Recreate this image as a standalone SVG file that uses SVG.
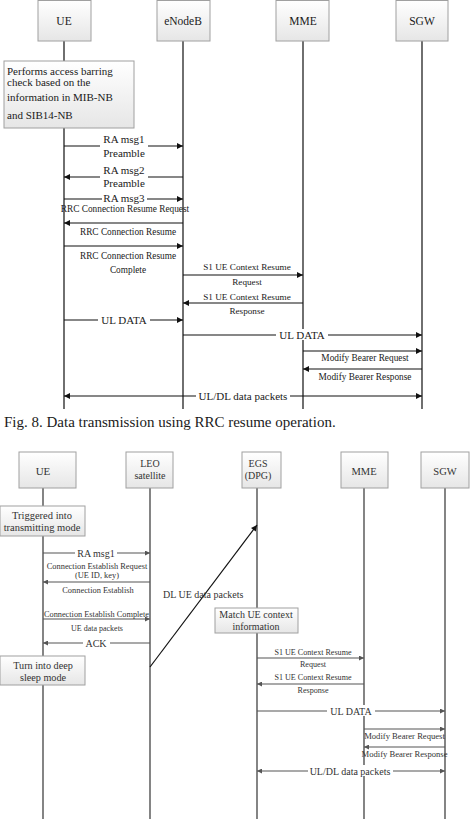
<svg xmlns="http://www.w3.org/2000/svg" width="474" height="819" viewBox="0 0 474 819">
<style>
text{font-family:"Liberation Serif","Times New Roman",serif;}
.t{fill:#1a1a1a;}
.b{fill:#333;}
.box{fill:url(#g);stroke:#a0a0a0;stroke-width:1;}
.ll{stroke:#222;stroke-width:1.3;fill:none;}
.ll2{stroke:#666;stroke-width:1.6;fill:none;}
.a{stroke:#111;stroke-width:1.2;fill:none;marker-end:url(#ah);}
.a2{stroke:#555;stroke-width:1.1;fill:none;marker-end:url(#ah2);}
.d{stroke:#111;stroke-width:1.2;fill:none;marker-start:url(#ah);marker-end:url(#ah);}
.d2{stroke:#555;stroke-width:1.1;fill:none;marker-start:url(#ah2);marker-end:url(#ah2);}
.w{fill:#fff;}
</style>
<defs>
<linearGradient id="g" x1="0" y1="0" x2="0" y2="1">
<stop offset="0" stop-color="#ffffff"/>
<stop offset="1" stop-color="#e6e6e6"/>
</linearGradient>
<marker id="ah" viewBox="0 0 10 10" refX="10" refY="5" markerWidth="8" markerHeight="6" markerUnits="userSpaceOnUse" orient="auto-start-reverse">
<path d="M0,0 L10,5 L0,10 z" fill="#111"/>
</marker>
<marker id="ah2" viewBox="0 0 10 10" refX="10" refY="5" markerWidth="7" markerHeight="5" markerUnits="userSpaceOnUse" orient="auto-start-reverse">
<path d="M0,0 L10,5 L0,10 z" fill="#555"/>
</marker>
</defs>
<rect width="474" height="819" fill="#fff"/>

<!-- ===== Figure 8 ===== -->
<g id="lifelines-top">
<line class="ll" x1="64" y1="41" x2="64" y2="409"/>
<line class="ll" x1="183" y1="41" x2="183" y2="409"/>
<line class="ll" x1="303" y1="41" x2="303" y2="409"/>
<line class="ll" x1="422" y1="41" x2="422" y2="409"/>
</g>
<g id="ue1"><rect class="box" x="38" y="0.5" width="53" height="40.5"/><text class="t" x="64" y="25" font-size="11.5" text-anchor="middle">UE</text></g>
<g id="enodeb"><rect class="box" x="157" y="0.5" width="53" height="40.5"/><text class="t" x="183" y="25" font-size="11.5" text-anchor="middle">eNodeB</text></g>
<g id="mme1"><rect class="box" x="276" y="0.5" width="53" height="40.5"/><text class="t" x="303" y="25" font-size="11.5" text-anchor="middle">MME</text></g>
<g id="sgw1"><rect class="box" x="396" y="0.5" width="52" height="40.5"/><text class="t" x="422" y="25" font-size="11.5" text-anchor="middle">SGW</text></g>
<g id="barring">
<rect class="box" x="4" y="61" width="130" height="67"/>
<text class="t" x="7" y="75" font-size="11">Performs access barring</text>
<text class="t" x="7" y="86" font-size="11">check based on the</text>
<text class="t" x="7" y="101" font-size="11">information in MIB-NB</text>
<text class="t" x="7" y="119" font-size="11">and SIB14-NB</text>
</g>

<g id="connectors-top">
<line class="a" x1="64" y1="146" x2="183" y2="146"/>
<rect class="w" x="100" y="140" width="48" height="9"/>
<text class="t" x="124" y="143" font-size="11" text-anchor="middle">RA msg1</text>
<text class="t" x="124" y="157" font-size="11" text-anchor="middle">Preamble</text>

<line class="a" x1="183" y1="177" x2="64" y2="177"/>
<rect class="w" x="100" y="171" width="48" height="9"/>
<text class="t" x="124" y="174" font-size="11" text-anchor="middle">RA msg2</text>
<text class="t" x="124" y="187" font-size="11" text-anchor="middle">Preamble</text>

<line class="a" x1="64" y1="199" x2="183" y2="199"/>
<rect class="w" x="102" y="193" width="45" height="10"/>
<text class="t" x="124" y="202" font-size="11" text-anchor="middle">RA msg3</text>
<text class="t" x="125" y="212" font-size="9.3" text-anchor="middle">RRC Connection Resume Request</text>

<line class="a" x1="183" y1="223" x2="64" y2="223"/>
<text class="t" x="128" y="235" font-size="9.3" text-anchor="middle">RRC Connection Resume</text>

<line class="a" x1="64" y1="246" x2="183" y2="246"/>
<text class="t" x="128" y="259" font-size="9.3" text-anchor="middle">RRC Connection Resume</text>
<text class="t" x="128" y="273" font-size="9.3" text-anchor="middle">Complete</text>

<line class="a" x1="183" y1="275" x2="303" y2="275"/>
<text class="t" x="247" y="270" font-size="9.2" text-anchor="middle">S1 UE Context Resume</text>
<text class="t" x="247" y="285" font-size="9.2" text-anchor="middle">Request</text>

<line class="a" x1="303" y1="303" x2="183" y2="303"/>
<text class="t" x="247" y="300" font-size="9.2" text-anchor="middle">S1 UE Context Resume</text>
<text class="t" x="247" y="314" font-size="9.2" text-anchor="middle">Response</text>

<line class="a" x1="64" y1="320" x2="183" y2="320"/>
<rect class="w" x="98" y="314" width="52" height="11"/>
<text class="t" x="124" y="324" font-size="11" text-anchor="middle">UL DATA</text>

<line class="a" x1="183" y1="335" x2="422" y2="335"/>
<rect class="w" x="276" y="329" width="52" height="11"/>
<text class="t" x="302" y="339" font-size="11" text-anchor="middle">UL DATA</text>

<line class="a" x1="303" y1="351" x2="422" y2="351"/>
<text class="t" x="365" y="361" font-size="9.3" text-anchor="middle">Modify Bearer Request</text>

<line class="a" x1="422" y1="369" x2="303" y2="369"/>
<text class="t" x="365" y="380" font-size="9.3" text-anchor="middle">Modify Bearer Response</text>

<line class="d" x1="64" y1="396" x2="422" y2="396"/>
<rect class="w" x="196" y="390" width="94" height="11"/>
<text class="t" x="243" y="400" font-size="11" text-anchor="middle">UL/DL data packets</text>
</g>

<text class="t" x="4" y="427" font-size="15">Fig. 8. Data transmission using RRC resume operation.</text>

<!-- ===== Second figure ===== -->
<g id="lifelines-bottom">
<line class="ll2" x1="43" y1="488" x2="43" y2="819"/>
<line class="ll2" x1="150" y1="488" x2="150" y2="819"/>
<line class="ll2" x1="257" y1="488" x2="257" y2="819"/>
<line class="ll2" x1="364" y1="488" x2="364" y2="819"/>
<line class="ll2" x1="445" y1="488" x2="445" y2="819"/>
</g>
<g id="ue2"><rect class="box" x="19" y="452" width="57" height="36"/><text class="b" x="43" y="475" font-size="11" text-anchor="middle">UE</text></g>
<g id="leo"><rect class="box" x="126" y="452" width="47" height="36"/><text class="b" x="150" y="467" font-size="10" text-anchor="middle">LEO</text><text class="b" x="150" y="479" font-size="10" text-anchor="middle">satellite</text></g>
<g id="egs"><rect class="box" x="242" y="452" width="39" height="36"/><text class="b" x="258" y="467" font-size="10" text-anchor="middle">EGS</text><text class="b" x="258" y="479" font-size="10" text-anchor="middle">(DPG)</text></g>
<g id="mme2"><rect class="box" x="341" y="452" width="47" height="36"/><text class="b" x="364" y="475" font-size="10.5" text-anchor="middle">MME</text></g>
<g id="sgw2"><rect class="box" x="421" y="452" width="48" height="36"/><text class="b" x="445" y="475" font-size="10.5" text-anchor="middle">SGW</text></g>
<g id="triggered"><rect class="box" x="0" y="506" width="85" height="30"/><text class="b" x="42" y="519" font-size="10.5" text-anchor="middle">Triggered into</text><text class="b" x="42" y="531" font-size="10.5" text-anchor="middle">transmitting mode</text></g>
<g id="sleep"><rect class="box" x="0" y="656" width="85" height="29"/><text class="b" x="43" y="669" font-size="10.2" text-anchor="middle">Turn into deep</text><text class="b" x="43" y="681" font-size="10.2" text-anchor="middle">sleep mode</text></g>
<g id="match"><rect class="box" x="215" y="608" width="83" height="25"/><text class="b" x="256" y="618" font-size="10" text-anchor="middle">Match UE context</text><text class="b" x="256" y="630" font-size="10" text-anchor="middle">information</text></g>

<g id="connectors-bottom">
<line class="a2" x1="43" y1="553" x2="150" y2="553"/>
<rect class="w" x="75" y="548" width="42" height="10"/>
<text class="b" x="96" y="557" font-size="10" text-anchor="middle">RA msg1</text>
<text class="b" x="97" y="569" font-size="8.4" text-anchor="middle">Connection Establish Request</text>
<text class="b" x="97" y="578" font-size="8.4" text-anchor="middle">(UE ID, key)</text>

<line class="a2" x1="150" y1="582" x2="43" y2="582"/>
<text class="b" x="98" y="593" font-size="8.4" text-anchor="middle">Connection Establish</text>

<line class="a2" x1="43" y1="619" x2="150" y2="619"/>
<text class="b" x="96.5" y="616.5" font-size="8.3" text-anchor="middle">Connection Establish Complete</text>
<text class="b" x="97" y="631" font-size="8" text-anchor="middle">UE data packets</text>

<line class="a2" x1="150" y1="643" x2="43" y2="643"/>
<rect class="w" x="83" y="638" width="27" height="10"/>
<text class="b" x="96" y="647" font-size="10" text-anchor="middle">ACK</text>

<line x1="150" y1="667" x2="257" y2="525" stroke="#111" stroke-width="1.2" marker-end="url(#ah)"/>
<text class="b" x="163" y="598" font-size="10">DL UE data packets</text>

<line class="a2" x1="257" y1="658" x2="364" y2="658"/>
<text class="b" x="313" y="655" font-size="8.1" text-anchor="middle">S1 UE Context Resume</text>
<text class="b" x="313" y="667" font-size="8.1" text-anchor="middle">Request</text>

<line class="a2" x1="364" y1="684" x2="257" y2="684"/>
<text class="b" x="313" y="680" font-size="8.1" text-anchor="middle">S1 UE Context Resume</text>
<text class="b" x="313" y="693" font-size="8.1" text-anchor="middle">Response</text>

<line class="a2" x1="257" y1="711" x2="445" y2="711"/>
<rect class="w" x="327" y="705" width="48" height="11"/>
<text class="b" x="351" y="715" font-size="10" text-anchor="middle">UL DATA</text>

<line class="a2" x1="364" y1="729" x2="445" y2="729"/>
<text class="b" x="404.5" y="739" font-size="8.6" text-anchor="middle">Modify Bearer Request</text>

<line class="a2" x1="445" y1="747" x2="364" y2="747"/>
<text class="b" x="404.5" y="757" font-size="8.6" text-anchor="middle">Modify Bearer Response</text>

<line class="d2" x1="257" y1="771" x2="445" y2="771"/>
<rect class="w" x="308" y="765" width="85" height="11"/>
<text class="b" x="350" y="775" font-size="10" text-anchor="middle">UL/DL data packets</text>
</g>
</svg>
